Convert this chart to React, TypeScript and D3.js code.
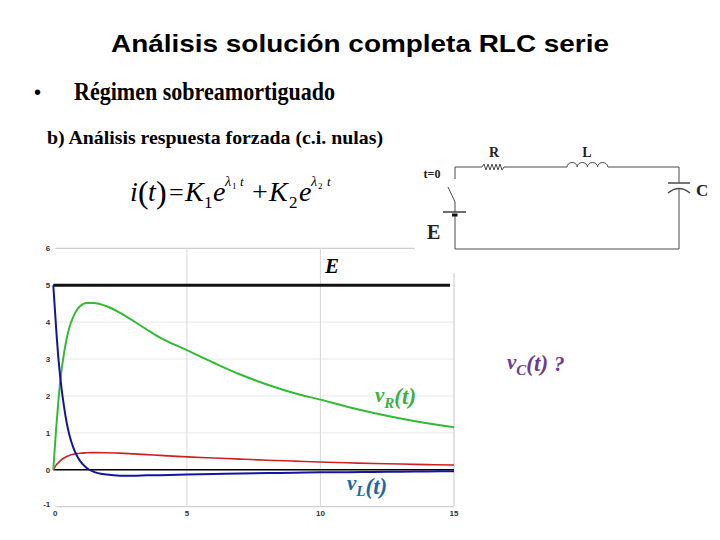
import * as d3 from 'd3'

// time samples (s) and the three responses
const tSamples = [0, 0.1, 0.2, 0.3, 0.4, 0.5, 0.6, 0.75, 0.9, 1, 1.25, 1.5, 2, 2.5, 3, 3.5, 4, 5, 6, 7, 8, 9, 10, 11, 12, 13, 14, 15]
const vR = [0, 1.05, 1.95, 2.65, 3.15, 3.55, 3.85, 4.15, 4.35, 4.43, 4.52, 4.52, 4.43, 4.25, 4.03, 3.8, 3.58, 3.24, 2.9, 2.58, 2.31, 2.08, 1.9, 1.71, 1.54, 1.39, 1.26, 1.15]
const vL = [5, 3.9, 2.95, 2.25, 1.72, 1.28, 0.95, 0.6, 0.36, 0.24, 0.05, -0.05, -0.13, -0.16, -0.16, -0.15, -0.145, -0.13, -0.115, -0.1, -0.09, -0.08, -0.07, -0.065, -0.06, -0.05, -0.045, -0.04]
const iT = [0, 0.12, 0.2, 0.27, 0.32, 0.36, 0.39, 0.42, 0.44, 0.45, 0.46, 0.465, 0.46, 0.45, 0.43, 0.41, 0.39, 0.35, 0.32, 0.29, 0.26, 0.235, 0.21, 0.19, 0.17, 0.155, 0.14, 0.13]
const sourceE = 5

const xTicks = [0, 5, 10, 15]
const yTicks = [-1, 0, 1, 2, 3, 4, 5, 6]

const serif = '"Liberation Serif", "Times New Roman", serif'
const sans = '"Liberation Sans", Arial, sans-serif'

export default function App() {
  const x = d3.scaleLinear().domain([0, 15]).range([53.3, 454])
  const y = d3.scaleLinear().domain([-1, 6]).range([506.7, 248.3])

  const line = d3.line<number>()
    .x((_, i) => x(tSamples[i]))
    .y(d => y(d))
    .curve(d3.curveMonotoneX)

  const wire = '#4a4a4a'

  return (
    <svg width={720} height={540} style={{ position: 'absolute', left: 0, top: 0, background: '#fff' }}>
      {/* headings */}
      <text x={360} y={52} textAnchor="middle" fontFamily={sans} fontWeight="bold" fontSize={24} textLength={498} lengthAdjust="spacingAndGlyphs">
        Análisis solución completa RLC serie
      </text>
      <text x={34} y={99} fontFamily={sans} fontSize={20}>•</text>
      <text x={74} y={100} fontFamily={serif} fontWeight="bold" fontSize={25} textLength={261} lengthAdjust="spacingAndGlyphs">
        Régimen sobreamortiguado
      </text>
      <text x={47} y={144} fontFamily={serif} fontWeight="bold" fontSize={19} textLength={336} lengthAdjust="spacingAndGlyphs">
        b) Análisis respuesta forzada (c.i. nulas)
      </text>

      {/* equation */}
      <g fontFamily={serif} fontStyle="italic">
        <text x={130} y={201} fontSize={28}>i</text>
        <text x={138} y={203} fontSize={32} fontStyle="normal">(</text>
        <text x={148} y={201} fontSize={28}>t</text>
        <text x={156} y={203} fontSize={32} fontStyle="normal">)</text>
        <text x={169} y={201} fontSize={26} fontStyle="normal">=</text>
        <text x={185} y={201} fontSize={28}>K</text>
        <text x={204} y={208} fontSize={17} fontStyle="normal">1</text>
        <text x={213} y={201} fontSize={28}>e</text>
        <text x={225} y={186} fontSize={14}>λ</text>
        <text x={232} y={189} fontSize={9} fontStyle="normal">1</text>
        <text x={240} y={186} fontSize={13}>t</text>
        <text x={252} y={201} fontSize={28} fontStyle="normal">+</text>
        <text x={269} y={201} fontSize={28}>K</text>
        <text x={289} y={208} fontSize={17} fontStyle="normal">2</text>
        <text x={299} y={201} fontSize={28}>e</text>
        <text x={311} y={186} fontSize={14}>λ</text>
        <text x={318} y={189} fontSize={9} fontStyle="normal">2</text>
        <text x={327} y={186} fontSize={13}>t</text>
      </g>

      {/* plot grid */}
      <g>
        {yTicks.filter(v => v > -1 && v < 6).map(v => (
          <line key={'h' + v} x1={x(0) + 2} x2={x(15)} y1={y(v)} y2={y(v)} stroke="#e8e8e8" strokeWidth={1} />
        ))}
        {[6, -1].map(v => (
          <line key={'b' + v} x1={x(0) + 2} x2={x(15)} y1={y(v)} y2={y(v)} stroke="#c4c4c4" strokeWidth={1} />
        ))}
        {xTicks.filter(v => v > 0).map(v => (
          <line key={'v' + v} x1={x(v)} x2={x(v)} y1={y(6)} y2={y(-1)} stroke={v === 15 ? '#c4c4c4' : '#d8d8d8'} strokeWidth={1} />
        ))}
      </g>

      {/* tick labels */}
      <g fontFamily={sans} fontSize={8} fontWeight="bold" fill="#333">
        {yTicks.map(v => (
          <text key={'yl' + v} x={x(0) - 3} y={y(v) + (v === -1 ? 0 : 3)} textAnchor="end">{v}</text>
        ))}
        {xTicks.map(v => (
          <text key={'xl' + v} x={x(v) + (v === 0 ? 2 : 0)} y={516} textAnchor="middle">{v}</text>
        ))}
      </g>

      {/* curves */}
      <line x1={x(0)} x2={x(15)} y1={y(0)} y2={y(0)} stroke="#000" strokeWidth={1.5} />
      <path d={line(iT) ?? ''} fill="none" stroke="#cc2222" strokeWidth={1.6} />
      <path d={line(vR) ?? ''} fill="none" stroke="#33bb33" strokeWidth={2} />
      <path d={line(vL) ?? ''} fill="none" stroke="#1414a0" strokeWidth={2} />
      <line x1={x(0)} x2={x(14.85)} y1={y(sourceE)} y2={y(sourceE)} stroke="#111" strokeWidth={3} />

      {/* curve labels */}
      <text x={325} y={273} fontFamily={serif} fontWeight="bold" fontStyle="italic" fontSize={21}>E</text>
      <text fontFamily={serif} fontWeight="bold" fontStyle="italic" fill="#3fb03f">
        <tspan x={375} y={402} fontSize={21}>v</tspan>
        <tspan fontSize={15} dy={6}>R</tspan>
        <tspan fontSize={23} dy={-4}>(t)</tspan>
      </text>
      <text fontFamily={serif} fontWeight="bold" fontStyle="italic" fill="#1b6aa5">
        <tspan x={347} y={490} fontSize={21}>v</tspan>
        <tspan fontSize={15} dy={6}>L</tspan>
        <tspan fontSize={23} dy={-2}>(t)</tspan>
      </text>
      <text fontFamily={serif} fontWeight="bold" fontStyle="italic" fill="#6b3a99">
        <tspan x={507} y={369} fontSize={21}>v</tspan>
        <tspan fontSize={15} dy={6}>C</tspan>
        <tspan fontSize={23} dy={-4}>(t)</tspan>
        <tspan fontSize={21} dx={6}>?</tspan>
      </text>

      {/* circuit picture, pasted over the top-right corner of the plot */}
      <rect x={415} y={130} width={305} height={143} fill="#fff" />
      <g fill="none" stroke={wire} strokeWidth={1}>
        <path d="M455,179 V167 H482" />
        <path d="M482,167 l2,-3 l2,6 l2,-6 l2,6 l2,-6 l2,6 l2,-6 l2,6 l2,-6 l2,6 l2,-3 l3,0" />
        <path d="M507,167 H567" />
        <path d="M567,167 a5.1,4.5 0 0 1 10.2,0 a5.1,4.5 0 0 1 10.2,0 a5.1,4.5 0 0 1 10.2,0 a5.1,4.5 0 0 1 10.2,0" />
        <path d="M608,167 H679 V183" />
        <path d="M668,183 H690" strokeWidth={1.5} />
        <path d="M668,193 Q679,184 690,193" strokeWidth={1.5} />
        <path d="M679,188 V249 H455 V216" />
        <path d="M448,187 L455,202 V212" />
        <path d="M443,212 H466" strokeWidth={1.6} />
      </g>
      <rect x={452} y={213.5} width={5.5} height={3} fill="#111" />
      <g fontFamily={serif} fontWeight="bold" fill="#222">
        <text x={494} y={157} fontSize={14} textAnchor="middle">R</text>
        <text x={587} y={157} fontSize={14} textAnchor="middle">L</text>
        <text x={696} y={196} fontSize={17}>C</text>
        <text x={427} y={239} fontSize={20}>E</text>
        <text x={432} y={178} fontSize={12} textAnchor="middle">t=0</text>
      </g>
    </svg>
  )
}
